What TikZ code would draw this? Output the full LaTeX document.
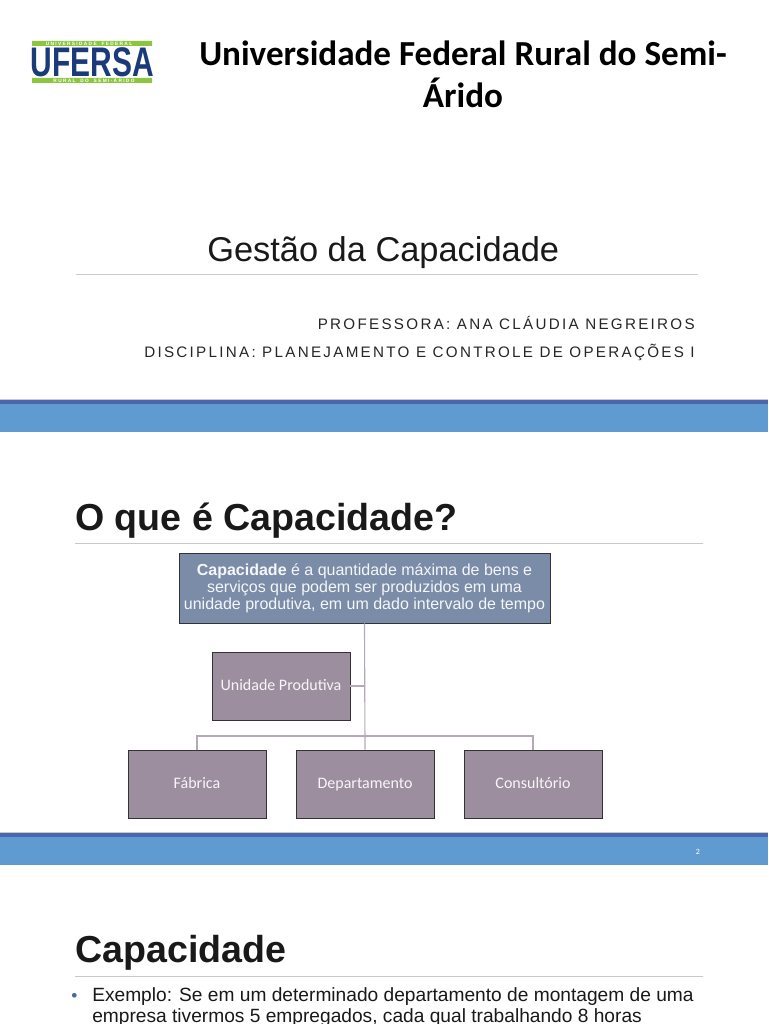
\documentclass[tikz,border=0pt]{standalone}
\usepackage{fontspec}
\setmainfont{Liberation Sans}
\newfontfamily\carlito{Carlito}
\definecolor{barblue}{HTML}{5F9BD1}
\definecolor{bardark}{HTML}{4A66AC}
\definecolor{boxblue}{HTML}{7B8CA8}
\definecolor{boxmauve}{HTML}{9C8E9F}
\definecolor{linkmauve}{HTML}{B5A9B8}
\definecolor{ruleline}{HTML}{C9C9C9}
\definecolor{logogreen}{HTML}{8CC63F}
\definecolor{logonavy}{HTML}{1B3A7A}
\begin{document}
\begin{tikzpicture}[x=0.75pt, y=-0.75pt, line join=miter,
    headbox/.style={draw=black!80, line width=0.6pt, fill=boxblue, text=white!92!boxblue, minimum width=278.25pt, minimum height=52.5pt, inner sep=0pt, align=center, font=\fontsize{12}{12.75}\selectfont},
    unitbox/.style={draw=black!80, line width=0.6pt, fill=boxmauve, text=white!92!boxmauve, minimum width=103.5pt, minimum height=51pt, inner sep=0pt, text height=8.5pt, text depth=2.5pt, font=\carlito\fontsize{12}{14}\selectfont},
    link/.style={draw=linkmauve, line width=0.85pt},
    barmain/.style={fill=barblue, draw=none},
    bartop/.style={fill=bardark, draw=none},
    slidetitle/.style={anchor=base west, inner sep=0pt, font=\bfseries\fontsize{28.2}{30}\selectfont, text=black!90},
    ruling/.style={draw=ruleline, line width=0.6pt},
    spaced/.style={anchor=base east, inner sep=0pt, font=\fontsize{11.4}{13}\selectfont, text=black!85}]
    \useasboundingbox (0,0) rectangle (768,1024);
    \fill[white] (0,0) rectangle (768,1024);
    \fill[logogreen] (32,41) rectangle (152,46) (32,78) rectangle (152,83);
    \node[inner sep=0pt, text=white] (logotop) at (89,43.5) {\fontsize{3.6}{4}\selectfont\bfseries U N I V E R S I D A D E\quad F E D E R A L};
    \node[inner sep=0pt, text=white] (logobottom) at (94,80.5) {\fontsize{3.6}{4}\selectfont\bfseries R U R A L\quad D O\quad S E M I - Á R I D O};
    \node[inner sep=0pt, text=logonavy] (logoname) at (92.5,62) {\scalebox{0.725}[1]{\bfseries\fontsize{31}{31}\selectfont UFERSA}};
    \node[anchor=base, inner sep=0pt, font=\carlito\bfseries\fontsize{26.35}{30}\selectfont] (uni1) at (463,66) {Universidade Federal Rural do Semi-};
    \node[anchor=base, inner sep=0pt, font=\carlito\bfseries\fontsize{26.35}{30}\selectfont] (uni2) at (463,108) {Árido};
    \node[anchor=base west, inner sep=0pt, font=\fontsize{25.8}{30}\selectfont, text=black!90] (gestao) at (207,261) {Gestão da Capacidade};
    \draw[ruling] (76,274) -- (698,274);
    \node[spaced] (prof) at (695,329) {\addfontfeature{LetterSpace=15}PROFESSORA: ANA CLÁUDIA NEGREIROS};
    \node[spaced] (disc) at (695,357) {\addfontfeature{LetterSpace=15}DISCIPLINA: PLANEJAMENTO E CONTROLE DE OPERAÇÕES I};
    \draw[ruling] (0,399.5) -- (768,399.5);
    \fill[barmain] (0,404) rectangle (768,432);
    \fill[bartop] (0,400) rectangle (768,404);
    \node[slidetitle] (oque) at (75,530) {O que é Capacidade?};
    \draw[ruling] (75,543) -- (703,543);
    \node[headbox] (capac) at (364.5,588) {\textbf{Capacidade} é a quantidade máxima de bens e\\serviços que podem ser produzidos em uma\\unidade produtiva, em um dado intervalo de tempo};
    \node[unitbox] (unidade) at (281,686) {Unidade Produtiva};
    \node[unitbox] (fabrica) at (197,784) {Fábrica};
    \node[unitbox] (depto) at (365,784) {Departamento};
    \node[unitbox] (consult) at (533,784) {Consultório};
    \draw[link] (capac.south) -- (depto.north);
    \draw[link] (unidade.east) -- (unidade.east -| depto.north);
    \draw[link] (fabrica.north) |- (365,736) -| (consult.north);
    \draw[ruling] (0,832.5) -- (768,832.5);
    \fill[barmain] (0,837) rectangle (768,865);
    \fill[bartop] (0,833) rectangle (768,837);
    \node[inner sep=0pt, text=white, font=\carlito\fontsize{6}{7}\selectfont] (pagenum) at (698,851.5) {2};
    \node[slidetitle] (capt) at (75,962) {Capacidade};
    \draw[ruling] (75,976) -- (703,976);
    \node[anchor=base west, inner sep=0pt, text=bardark, font=\fontsize{13}{15}\selectfont] (bullet) at (71,1001) {•};
    \node[anchor=base west, inner sep=0pt, font=\fontsize{14.37}{16}\selectfont, text=black!90] (ex1) at (92,1001) {Exemplo: Se em um determinado departamento de montagem de uma};
    \node[anchor=base west, inner sep=0pt, font=\fontsize{14.37}{16}\selectfont, text=black!90] (ex2) at (92,1022) {empresa tivermos 5 empregados, cada qual trabalhando 8 horas};
\end{tikzpicture}
\end{document}
